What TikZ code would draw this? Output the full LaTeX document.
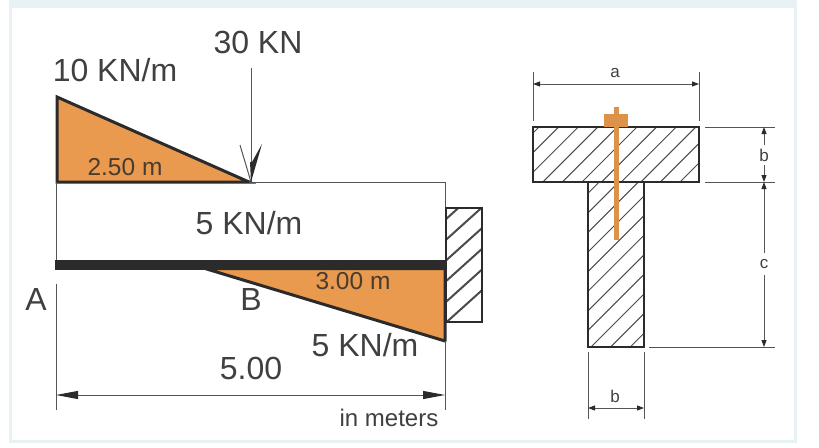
\documentclass[tikz,border=0pt]{standalone}
\usepackage{fontspec}
\setmainfont{Liberation Sans}
\usetikzlibrary{arrows.meta,positioning}
\definecolor{fondo}{HTML}{E8F2F5}
\definecolor{arancio}{HTML}{E99A4E}
\definecolor{scuro}{HTML}{2B2B2B}
\tikzset{
>=Stealth,
etichetta/.style={inner sep=0pt,text=scuro!90!white,font=\fontsize{32}{32}\selectfont},
piccola/.style={inner sep=0pt,text=scuro!90!white,font=\fontsize{24}{24}\selectfont},
minima/.style={inner sep=0pt,text=scuro!90!white,font=\fontsize{17}{17}\selectfont},
misura/.style={inner sep=0pt,text=scuro!85!arancio,font=\fontsize{24.5}{24.5}\selectfont},
sottile/.style={draw=scuro!80!white,line width=0.9pt},
carico/.style={draw=scuro,fill=arancio,line width=3pt},
quota/.style={{Stealth[length=22pt,width=8pt,inset=0pt,color=scuro]}-{Stealth[length=22pt,width=8pt,inset=0pt,color=scuro]},sottile},
quotina/.style={{Stealth[length=7pt,width=5pt,inset=0pt,color=scuro]}-{Stealth[length=7pt,width=5pt,inset=0pt,color=scuro]},sottile},
punta/.style={-{Stealth[length=7pt,width=5pt,inset=0pt,color=scuro]},sottile},
tratteggio/.style={draw=scuro!85!white,line width=1pt},
sezione/.style={draw=scuro,line width=2.2pt},
barra/.style={fill=arancio!95!black}}

\begin{document}
\begin{tikzpicture}[x=1pt,y=-1pt]

\useasboundingbox (0,0) rectangle (819,447);
\fill[fondo] (9,0) rectangle (797,443);
\fill[white] (12,8) rectangle (794,440);

\coordinate (q1) at (57,97);
\coordinate (q2) at (57,182);
\coordinate (q3) at (249,182);
\coordinate (q4) at (445,182);
\coordinate (m1) at (56,182);
\coordinate (m2) at (56,260);
\coordinate (t1) at (55,265);
\coordinate (t2) at (445,265);
\coordinate (p1) at (205,268.5);
\coordinate (p2) at (445,268.5);
\coordinate (p3) at (445,341);
\coordinate (f1) at (251,68);
\coordinate (f2) at (251,182);
\coordinate (a1) at (56,284);
\coordinate (a2) at (56,410);
\coordinate (a3) at (445,341);
\coordinate (a4) at (445,410);
\coordinate (d1) at (56,395);
\coordinate (d2) at (445,395);

% carichi
\draw[carico] (q1) -- (q2) -- (q3) -- cycle;
\draw[sottile] (q3) -- (q4) -- (t2);
\draw[sottile] (m1) -- (m2);
\draw[carico,line join=round] (p1) -- (p2) -- (p3) -- cycle;
\draw[scuro,line width=10pt] (t1) -- (t2);
\draw[sottile] (f1) -- (f2);
\draw[sottile,line width=1pt] (f2) -- (240,145);
\fill[scuro] (f2) -- (262,144) -- (252,162) -- (250,162) -- cycle;

% incastro
\begin{scope}
\clip (445,208) rectangle (482,322);
\foreach \k in {0,...,5}
\draw[tratteggio,line width=2pt] (445,{220+20.7*\k}) -- (482,{220+20.7*\k-33.3});
\end{scope}
\draw[scuro,line width=2.2pt] (446,208) rectangle (482,322);

\draw[sottile] (a1) -- (a2);
\draw[sottile] (a3) -- (a4);
\draw[quota] (d1) -- (d2);

\node[etichetta] (dieci) at (115,70) {10 KN/m};
\node[etichetta] (trenta) at (258,42) {30 KN};
\node[misura] (lung1) at (125,167) {2.50 m};
\node[etichetta] (cinque1) at (249,223) {5 KN/m};
\node[misura] (lung2) at (353,281) {3.00 m};
\node[etichetta] (A) at (36,299) {A};
\node[etichetta] (B) at (251,299) {B};
\node[etichetta] (cinque2) at (365,345) {5 KN/m};
\node[etichetta] (totale) at (251,368) {5.00};
\node[piccola] (metri) at (389,418) {in meters};

% sezione a T
\begin{scope}
\clip (533,127) rectangle (699,182);
\foreach \k in {0,...,12}
\draw[tratteggio] ({666+19.6*\k-100},100) -- ({666+19.6*\k-200},200);
\end{scope}
\begin{scope}
\clip (588,182) rectangle (644,347);
\foreach \k in {-4,...,8}
\draw[tratteggio] ({840+19.6*\k-100},100) -- ({840+19.6*\k-400},400);
\end{scope}
\draw[sezione] (533,127) rectangle (699,182);
\draw[sezione] (588,182) -- (588,347) -- (644,347) -- (644,182);
\fill[barra] (613.5,107) rectangle (619,114);
\fill[barra] (604,114) rectangle (628,127);
\fill[barra] (613.5,127) rectangle (619,240);

\coordinate (s1) at (533,121);
\coordinate (s2) at (533,72);
\coordinate (s3) at (699,121);
\coordinate (s4) at (699,72);
\coordinate (s5) at (533,84);
\coordinate (s6) at (699,84);
\draw[sottile] (s1) -- (s2);
\draw[sottile] (s3) -- (s4);
\draw[quotina] (s5) -- (s6);
\node[minima] (a) at (615,73) {a};

\coordinate (r1) at (705,127);
\coordinate (r2) at (775,127);
\coordinate (r3) at (705,182);
\coordinate (r4) at (775,182);
\coordinate (r5) at (649,347);
\coordinate (r6) at (775,347);
\draw[sottile] (r1) -- (r2);
\draw[sottile] (r3) -- (r4);
\draw[sottile] (r5) -- (r6);
\node[minima] (b1) at (764,155) {b};
\node[minima] (c) at (764,264) {c};
\draw[punta] (b1.north) ++(0,-4) -- (764,127);
\draw[punta] (b1.south) ++(0,4) -- (764,182);
\draw[punta] (c.north) ++(0,-6) -- (764,182);
\draw[punta] (c.south) ++(0,6) -- (764,347);

\coordinate (u1) at (588,352);
\coordinate (u2) at (588,419);
\coordinate (u3) at (644,352);
\coordinate (u4) at (644,419);
\coordinate (u5) at (588,408);
\coordinate (u6) at (644,408);
\draw[sottile] (u1) -- (u2);
\draw[sottile] (u3) -- (u4);
\draw[quotina] (u5) -- (u6);
\node[minima] (b2) at (615,396) {b};

\end{tikzpicture}
\end{document}
